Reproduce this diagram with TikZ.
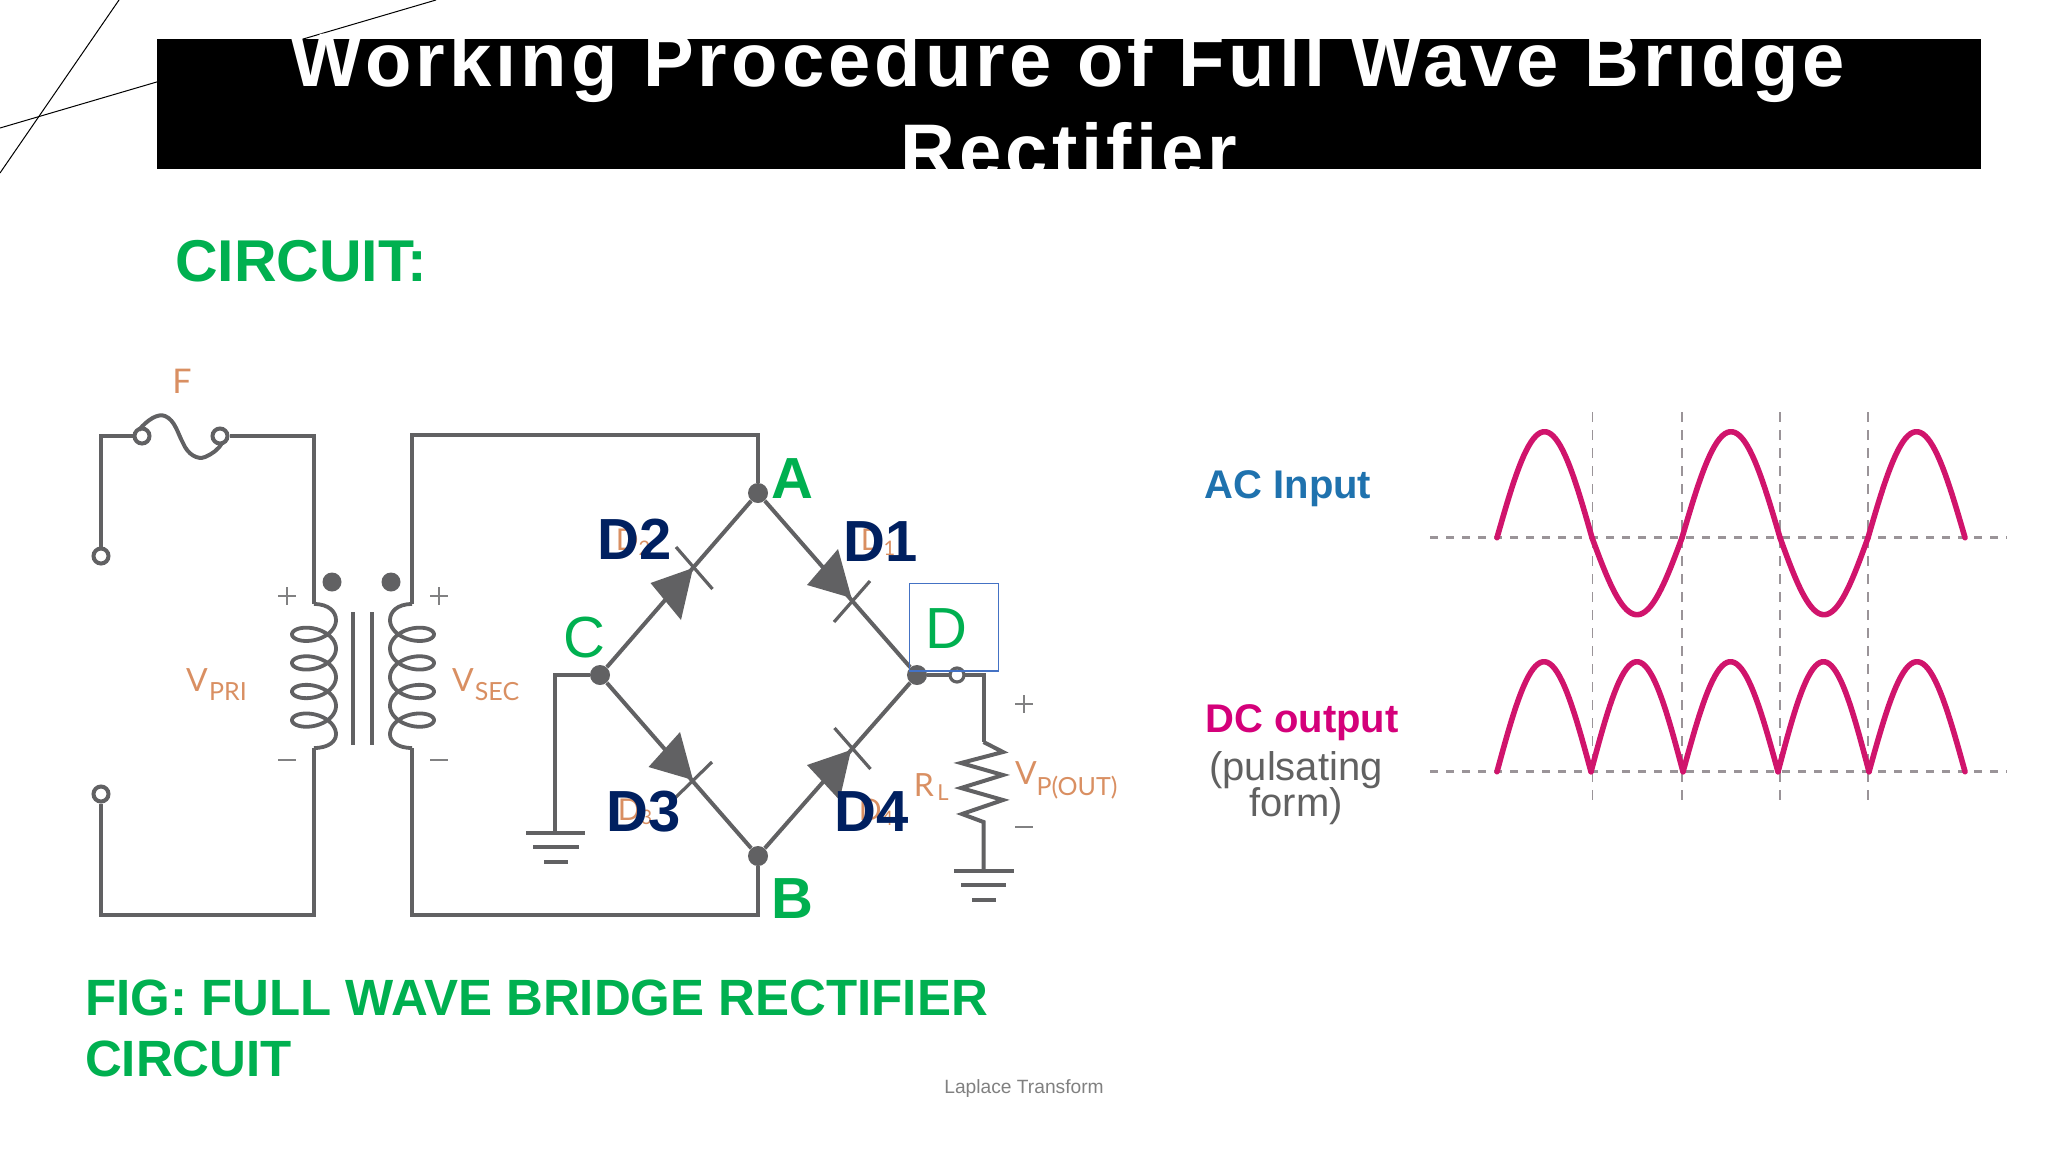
\documentclass[tikz,border=0pt]{standalone}
\usepackage{fontspec}
\setmainfont{Liberation Sans}
\newfontfamily\titlefont[LetterSpace=5.4]{Liberation Sans}
\newfontfamily\schemfont{Lato}
\definecolor{wire}{HTML}{616163}
\definecolor{slidegreen}{HTML}{00B050}
\definecolor{navy}{HTML}{002060}
\definecolor{schemorange}{HTML}{D98F62}
\definecolor{wavepink}{HTML}{D0146C}
\definecolor{acblue}{HTML}{1F72AE}
\definecolor{dcpink}{HTML}{D4007A}
\definecolor{gridgray}{HTML}{9A9498}
\tikzset{
  txt/.style={inner sep=0pt,outer sep=0pt},
  wireline/.style={draw=wire,line width=2pt,line join=miter},
  thinwire/.style={draw=wire,line width=1.6pt},
  jdot/.style={circle,fill=wire,draw=none,minimum size=10pt,inner sep=0pt},
  term/.style={circle,fill=white,draw=wire,line width=2pt,minimum size=7.5pt,inner sep=0pt},
  tri/.style={fill=wire,draw=none},
  title/.style={txt,text=white,font=\titlefont\bfseries\fontsize{38}{45}\selectfont,anchor=base},
  head/.style={txt,text=slidegreen,font=\bfseries\fontsize{29.5}{35}\selectfont,anchor=base west},
  figcap/.style={txt,text=slidegreen,font=\bfseries\fontsize{25.5}{30}\selectfont,anchor=base west},
  lblbold/.style={txt,text=slidegreen,font=\bfseries\fontsize{29}{35}\selectfont},
  lblreg/.style={txt,text=slidegreen,font=\fontsize{29}{35}\selectfont},
  dname/.style={txt,text=navy,font=\bfseries\fontsize{29}{34}\selectfont},
  sch/.style={txt,text=schemorange,font=\schemfont\fontsize{16}{20}\selectfont},
  schsub/.style={txt,text=schemorange,font=\schemfont\fontsize{12.5}{15}\selectfont},
  sign/.style={draw=wire!80,line width=0.8pt},
  wave/.style={draw=wavepink,line width=2.8pt,line cap=round},
  hgrid/.style={draw=gridgray,line width=1.5pt,dash pattern=on 4pt off 4pt},
  vgrid/.style={draw=gridgray,line width=0.9pt,dash pattern=on 5pt off 4pt},
}
\begin{document}
\begin{tikzpicture}[x=0.5pt,y=-0.5pt]
\useasboundingbox (0,0) rectangle (2048,1152);

% corner lines
\draw[black,line width=0.5pt] (119,0) -- (0,173);
\draw[black,line width=0.5pt] (0,128) -- (436,0);

% title bar
\fill[black] (157,38.5) rectangle (1981,169);
\node[title] (t1) at (1068,86) {Working Procedure of Full Wave Bridge};
\node[title] (t2) at (1069,177) {Rectifier};

\node[head] (circ) at (175,281) {CIRCUIT:};
\node[figcap] (fig1) at (85,1015) {FIG: FULL WAVE BRIDGE RECTIFIER};
\node[figcap] (fig2) at (85,1076) {CIRCUIT};
\node[txt,text=black!50,font=\fontsize{9.6}{12}\selectfont] (foot) at (1024,1089) {Laplace Transform};

% primary side
\coordinate (pTop) at (314,604);
\coordinate (pBot) at (314,748);
\coordinate (pCor) at (314,915);
\coordinate (sTop) at (412,604);
\coordinate (sBot) at (412,748);
\coordinate (aTop) at (758,435);
\coordinate (bBot) at (758,915);
\node[term] (tTop) at (101,556) {};
\node[term] (tBot) at (101,794) {};
\node[term] (fl) at (142,436) {};
\node[term] (fr) at (220,436) {};
\draw[wireline] (tTop) |- (fl);
\draw[wireline] (fr) -| (pTop);
\draw[wireline] (tBot) |- (pCor) -- (pBot);
\draw[wireline] (139,430) .. controls (147,420) and (158,413) .. (165,416) .. controls (175,420) and (178,434) .. (183,443) .. controls (188,455) and (198,460) .. (205,457) .. controls (212,454) and (218,450) .. (222,443);
\node[txt,text=schemorange,font=\schemfont\fontsize{17}{20}\selectfont] (fuse) at (182,381) {F};

% transformer coils
\foreach \cx/\sg in {314/1,412/-1}{
  \draw[wireline,line width=1.9pt] (\cx,604) .. controls ({\cx+\sg*15},604) and ({\cx+\sg*22},612) .. ({\cx+\sg*22},620)
    -- plot[domain=0:1440,samples=220] ({\cx+\sg*22*cos(\x)},{620+\x/360*28.6+13*sin(\x)})
    .. controls ({\cx+\sg*22},741) and ({\cx+\sg*15},748) .. (\cx,748);
}
\draw[thinwire,line width=1.8pt] (353,612) -- (353,745);
\draw[thinwire,line width=1.8pt] (372,612) -- (372,745);
\node[jdot,minimum size=9.5pt] (dotP) at (332,582) {};
\node[jdot,minimum size=9.5pt] (dotS) at (391,582) {};
\foreach \px in {287,439}{
  \draw[sign] (\px-9,596) -- (\px+9,596) (\px,587) -- (\px,605);
  \draw[sign] (\px-9,760) -- (\px+9,760);
}
\node[sch] (vp) at (197,680) {V};
\node[schsub] (vpsub) at (228,692) {PRI};
\node[sch] (vs) at (463,680) {V};
\node[schsub] (vssub) at (497,692) {SEC};

% bridge
\node[jdot] (nA) at (758,493) {};
\node[jdot] (nB) at (758,856) {};
\node[jdot] (nC) at (600,675) {};
\node[jdot] (nD) at (917,675) {};
\draw[wireline] (sTop) |- (aTop) -- (nA);
\draw[wireline] (sBot) |- (bBot) -- (nB);
\draw[wireline] (nA) -- (nD);
\draw[wireline] (nA) -- (nC);
\draw[wireline] (nC) -- (nB);
\draw[wireline] (nD) -- (nB);
% diode triangles and bars
\fill[tri] (693,568) -- (650.5,583) -- (681,620) -- cycle;
\draw[thinwire] (676,547) -- (712.5,589);
\fill[tri] (851.5,598) -- (807,585) -- (838,549) -- cycle;
\draw[thinwire] (870,581) -- (834,622);
\fill[tri] (693,780) -- (680,732) -- (648.5,767) -- cycle;
\draw[thinwire] (712,762) -- (675,798);
\fill[tri] (851,750) -- (807,765) -- (839.5,800) -- cycle;
\draw[thinwire] (834.5,728) -- (870.5,769);

% ground at C
\coordinate (g1) at (555,833);
\draw[wireline] (nC) -| (g1);
\draw[wireline] (526,833) -- (585,833) (533,847) -- (578.5,847) (544,862) -- (567.5,862);

% output and load
\coordinate (oTop) at (983.5,742);
\coordinate (oBot) at (983.5,822);
\coordinate (g2) at (983.5,871);
\draw[wireline] (nD) -| (oTop);
\node[term,minimum size=7pt,line width=1.6pt] (out) at (957,675) {};
\draw[wireline] (oTop) -- (1003,752) -- (961,763) -- (1003,775) -- (961,788) -- (1003,800) -- (962,814) -- (oBot) -- (g2);
\draw[wireline] (954,871) -- (1013.5,871) (961,885) -- (1006,885) (972,900) -- (996,900);
\draw[sign] (1015,704) -- (1033,704) (1024,695) -- (1024,713);
\draw[sign] (1015,827) -- (1033,827);
\node[sch] (rl) at (924,785) {R};
\node[schsub,font=\schemfont\fontsize{11}{13}\selectfont] (rlsub) at (943,793) {L};
\node[sch] (vo) at (1026,773) {V};
\node[schsub] (vosub) at (1077,788) {P(OUT)};

% old diode names under the new ones
\node[sch,font=\schemfont\fontsize{15}{16}\selectfont] (o2) at (633,542) {D\raisebox{-0.3ex}{\fontsize{10}{12}\selectfont 2}};
\node[sch,font=\schemfont\fontsize{15}{16}\selectfont] (o1) at (878,542) {D\raisebox{-0.3ex}{\fontsize{10}{12}\selectfont 1}};
\node[sch,font=\schemfont\fontsize{15}{16}\selectfont] (o3) at (635,812) {D\raisebox{-0.3ex}{\fontsize{10}{12}\selectfont 3}};
\node[sch,font=\schemfont\fontsize{15}{16}\selectfont] (o4) at (876,812) {D\raisebox{-0.3ex}{\fontsize{10}{12}\selectfont 4}};
\node[dname] (d2) at (635,539) {D2};
\node[dname] (d1) at (881,541.5) {D1};
\node[dname] (d3) at (644,811.5) {D3};
\node[dname] (d4) at (872,811.5) {D4};

% added point labels
\node[lblbold] (lA) at (792,479) {A};
\node[lblbold] (lB) at (792,899) {B};
\node[lblreg] (lC) at (584,638) {C};
\node[lblreg] (lD) at (946,629) {D};
\draw[draw={rgb,255:red,68;green,114;blue,196},line width=0.7pt] (909.5,583.5) rectangle (998.5,671);

% waveforms
\foreach \yy in {537.7,771.7}{
  \draw[hgrid] (1430,\yy) -- (2007,\yy);
}
\foreach \vx in {1592.5,1682,1780,1868}{
  \draw[vgrid] (\vx,412) -- (\vx,802);
}
\foreach \a/\b/\amp in {1497/1592/106,1592/1682/-77,1682/1780/106,1780/1868/-77,1868/1965/106}{
  \draw[wave] plot[domain=0:180,samples=40] ({\a+\x/180*(\b-\a)},{537.7-\amp*sin(\x)});
}
\foreach \a/\b in {1497/1591,1591/1683,1683/1778,1778/1869,1869/1965}{
  \draw[wave] plot[domain=0:180,samples=40] ({\a+\x/180*(\b-\a)},{771.7-110*sin(\x)});
}
\node[txt,text=acblue,font=\bfseries\fontsize{20}{24}\selectfont,anchor=base] (acin) at (1288,498) {AC Input};
\node[txt,text=dcpink,font=\bfseries\fontsize{20}{24}\selectfont,anchor=base] (dcout) at (1302,732) {DC output};
\node[txt,text=black!62,font=\fontsize{20}{24}\selectfont,anchor=base] (puls) at (1296,780) {(pulsating};
\node[txt,text=black!62,font=\fontsize{20}{24}\selectfont,anchor=base] (form) at (1296,816) {form)};
\end{tikzpicture}
\end{document}
